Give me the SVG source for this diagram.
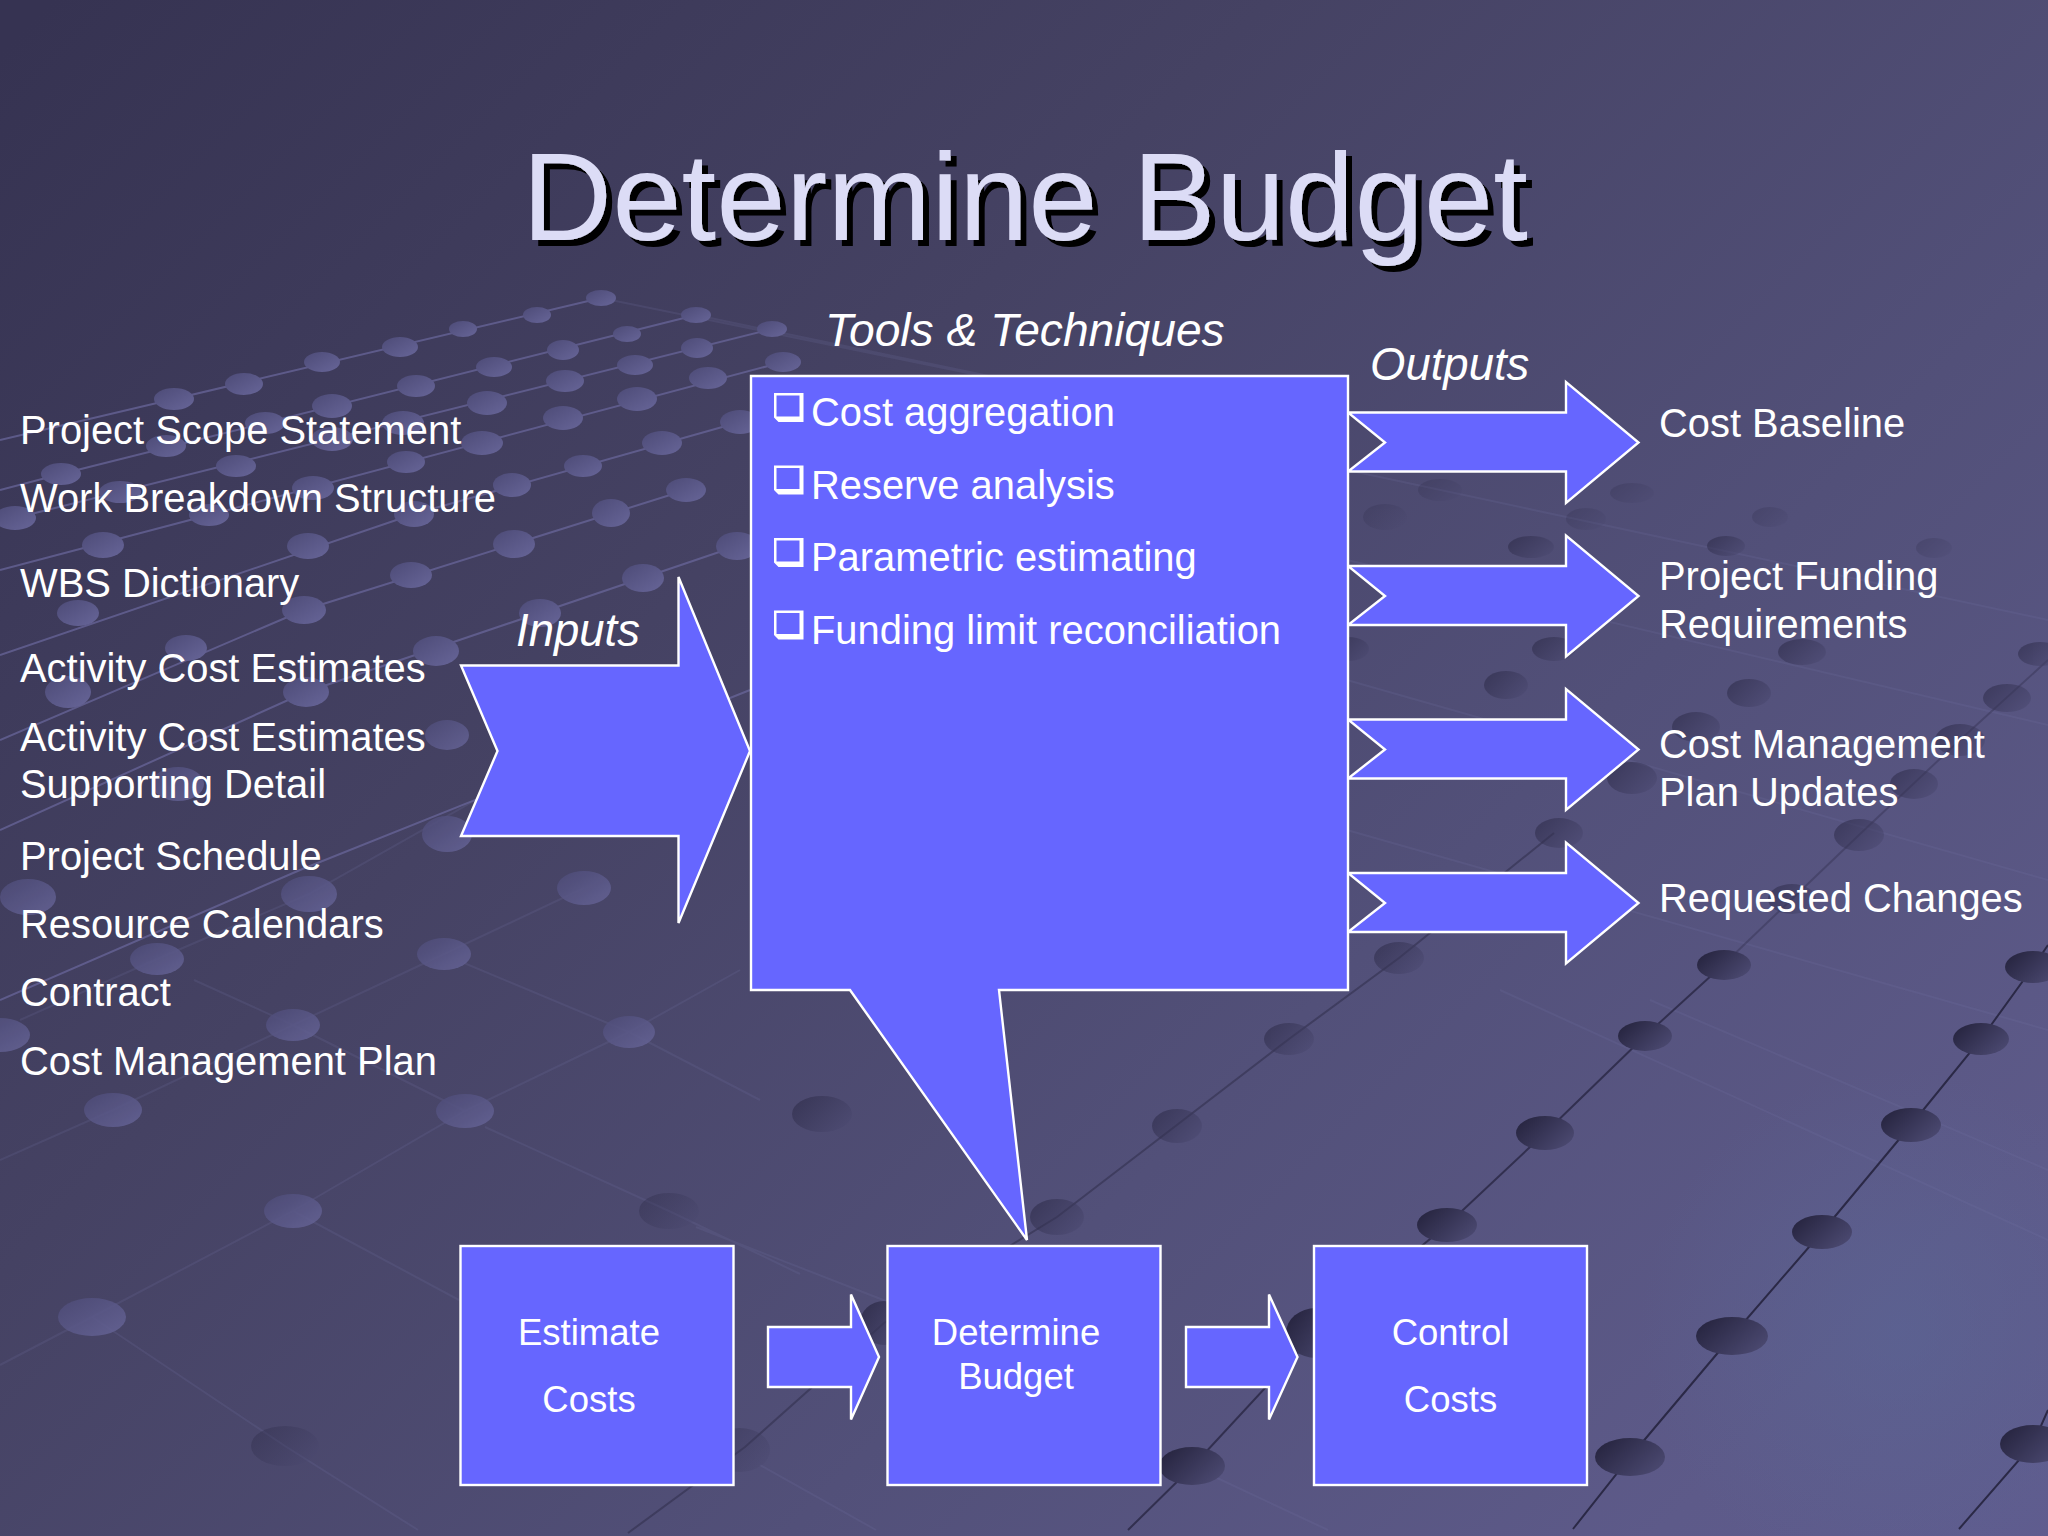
<svg xmlns="http://www.w3.org/2000/svg" xmlns:xlink="http://www.w3.org/1999/xlink" width="2048" height="1536" viewBox="0 0 2048 1536">
<defs>
<linearGradient id="bg" gradientUnits="userSpaceOnUse" x1="150" y1="-100" x2="1900" y2="1640">
<stop offset="0" stop-color="#363352"/><stop offset="0.35" stop-color="#454263"/><stop offset="0.65" stop-color="#525079"/><stop offset="0.9" stop-color="#5d5a89"/><stop offset="1" stop-color="#5f5c8e"/>
</linearGradient>
<linearGradient id="dark" x1="0" y1="0.2" x2="1" y2="0.8"><stop offset="0" stop-color="#26243f"/><stop offset="1" stop-color="#4c4a72"/></linearGradient>
<linearGradient id="light" x1="0" y1="0" x2="1" y2="1"><stop offset="0" stop-color="#4d4b77"/><stop offset="1" stop-color="#676598"/></linearGradient>
<radialGradient id="glow" gradientUnits="userSpaceOnUse" cx="1900" cy="1330" r="260"><stop offset="0" stop-color="#5a6696" stop-opacity="0.55"/><stop offset="1" stop-color="#5a6696" stop-opacity="0"/></radialGradient>
<filter id="hard" x="-5%" y="-5%" width="110%" height="115%"><feOffset in="SourceAlpha" dx="5.500" dy="5.500" result="o"/><feFlood flood-color="#000"/><feComposite in2="o" operator="in"/><feMerge><feMergeNode/><feMergeNode in="SourceGraphic"/></feMerge></filter>
<path id="cb" fill-rule="evenodd" d="M774 393H803.500V422H778.500L774 417.500ZM776.500 395.500V416.500H799.500V395.500Z"/>
<style>
text{font-family:"Liberation Sans",Arial,sans-serif;fill:#fff}
.l{font-size:39.9px}
.i{font-size:45.5px;font-style:italic}
.b{font-size:36.5px;text-anchor:middle}
.shape{fill:#6666ff;stroke:#fff;stroke-width:2.4;stroke-linejoin:miter}
.lt{fill:url(#light)}
.dk{fill:url(#dark)}
.ll{fill:none;stroke:#68659a;stroke-width:2;opacity:.75}
.dl{fill:none;stroke:#2b2946;stroke-width:2}
.fl{fill:none;stroke:#7673a6;stroke-width:2;opacity:.18}
</style>
</defs>
<rect id="background" width="2048" height="1536" fill="url(#bg)"/>
<rect width="2048" height="1536" fill="url(#glow)"/>
<g id="grid-far">
<path class="ll" d="M601 298 174 399 0 440M696 315 61 474 0 490M772 329 15 518M783 362 209 515 0 570M740 422 414 514 0 655M686 490 304 610 0 740M737 546 306 692 0 830M750 690 300 870 0 1000"/>
<path class="fl" d="M584 888 444 954 293 1025 113 1110 0 1160M740 970 629 1032 465 1111 293 1211 92 1317 0 1365M600 730 309 894 157 959 20 1020M92 1317 285 1446 418 1530M293 1211 459 1300M464 963 629 1032 760 1100M485 1127 669 1211 800 1274M194 980 293 1025 465 1111M601 298 1100 400M696 315 1200 420M696 1227 891 1303M760 1465 876 1530M1215 1477 1328 1530M1347 470 2048 620M1347 560 2048 725M1347 680 2048 880M1347 830 2048 1030M1500 990 2048 1240M1650 1000 2048 1170"/>
<g class="lt">
<ellipse cx="601" cy="298" rx="15" ry="8"/><ellipse cx="537" cy="315" rx="14" ry="8"/><ellipse cx="463" cy="329" rx="14" ry="8"/><ellipse cx="400" cy="347" rx="18" ry="10"/><ellipse cx="322" cy="362" rx="18" ry="10"/><ellipse cx="244" cy="384" rx="19" ry="11"/><ellipse cx="174" cy="399" rx="20" ry="11"/>
<ellipse cx="696" cy="315" rx="15" ry="8"/><ellipse cx="627" cy="334" rx="14" ry="8"/><ellipse cx="563" cy="350" rx="16" ry="10"/><ellipse cx="494" cy="367" rx="18" ry="10"/><ellipse cx="416" cy="386" rx="19" ry="11"/><ellipse cx="332" cy="406" rx="20" ry="12"/><ellipse cx="265" cy="423" rx="20" ry="11"/><ellipse cx="166" cy="446" rx="20" ry="11"/><ellipse cx="61" cy="474" rx="20" ry="11"/>
<ellipse cx="772" cy="329" rx="15" ry="8"/><ellipse cx="697" cy="348" rx="16" ry="10"/><ellipse cx="635" cy="365" rx="18" ry="10"/><ellipse cx="565" cy="381" rx="19" ry="11"/><ellipse cx="487" cy="403" rx="20" ry="12"/><ellipse cx="403" cy="423" rx="21" ry="12"/><ellipse cx="332" cy="439" rx="21" ry="12"/><ellipse cx="236" cy="466" rx="20" ry="11"/><ellipse cx="120" cy="492" rx="21" ry="11"/><ellipse cx="15" cy="518" rx="21" ry="12"/>
<ellipse cx="783" cy="362" rx="18" ry="10"/><ellipse cx="708" cy="378" rx="19" ry="11"/><ellipse cx="637" cy="399" rx="20" ry="12"/><ellipse cx="563" cy="418" rx="20" ry="12"/><ellipse cx="482" cy="443" rx="21" ry="12"/><ellipse cx="406" cy="462" rx="19" ry="11"/><ellipse cx="313" cy="488" rx="21" ry="12"/><ellipse cx="209" cy="515" rx="20" ry="11"/>
<ellipse cx="740" cy="422" rx="20" ry="12"/><ellipse cx="662" cy="443" rx="20" ry="12"/><ellipse cx="583" cy="466" rx="19" ry="11"/><ellipse cx="512" cy="485" rx="19" ry="12"/><ellipse cx="414" cy="514" rx="20" ry="13"/><ellipse cx="308" cy="546" rx="21" ry="13"/><ellipse cx="103" cy="545" rx="21" ry="13"/>
<ellipse cx="686" cy="490" rx="20" ry="12"/><ellipse cx="611" cy="513" rx="19" ry="14"/><ellipse cx="514" cy="544" rx="21" ry="14"/><ellipse cx="411" cy="575" rx="21" ry="13"/><ellipse cx="304" cy="610" rx="22" ry="14"/><ellipse cx="78" cy="613" rx="21" ry="13"/>
<ellipse cx="737" cy="546" rx="21" ry="14"/><ellipse cx="643" cy="578" rx="21" ry="14"/><ellipse cx="540" cy="613" rx="21" ry="14"/><ellipse cx="436" cy="651" rx="23" ry="15"/><ellipse cx="186" cy="648" rx="21" ry="13"/><ellipse cx="306" cy="692" rx="23" ry="15"/><ellipse cx="68" cy="692" rx="23" ry="16"/>
</g>
<g class="lt" opacity=".85">
<ellipse cx="447" cy="735" rx="22" ry="15"/><ellipse cx="178" cy="784" rx="26" ry="17"/><ellipse cx="447" cy="834" rx="25" ry="18"/><ellipse cx="28" cy="897" rx="28" ry="18"/><ellipse cx="309" cy="894" rx="28" ry="18"/><ellipse cx="584" cy="888" rx="27" ry="17"/><ellipse cx="444" cy="954" rx="27" ry="16"/><ellipse cx="157" cy="959" rx="27" ry="16"/><ellipse cx="293" cy="1025" rx="27" ry="16"/><ellipse cx="629" cy="1032" rx="26" ry="16"/><ellipse cx="0" cy="1035" rx="30" ry="17"/><ellipse cx="465" cy="1111" rx="29" ry="17"/><ellipse cx="113" cy="1110" rx="29" ry="17"/><ellipse cx="293" cy="1211" rx="29" ry="17"/><ellipse cx="92" cy="1317" rx="34" ry="19"/>
</g>
</g>
<g id="grid-near">
<path class="dl" opacity=".5" d="M628 1533 745 1447 884 1323 1057 1217 1289 1039 1399 958 1554 833"/>
<path class="dl" opacity=".85" d="M1128 1530 1192 1467 1316 1333 1447 1225 1545 1133 1645 1036 1724 964"/>
<path class="dl" opacity=".35" d="M1724 964 1792 899 1859 835 1960 740 2048 660"/>
<path class="dl" d="M1573 1529 1630 1457 1732 1336 1822 1232 1911 1125 1981 1039 2033 967 2048 945M1959 1529 2033 1444 2048 1410"/>
<g class="dk" opacity=".22">
<ellipse cx="1440" cy="490" rx="22" ry="11"/><ellipse cx="1632" cy="493" rx="22" ry="10"/><ellipse cx="1385" cy="517" rx="22" ry="13"/><ellipse cx="1586" cy="519" rx="20" ry="11"/><ellipse cx="1770" cy="517" rx="18" ry="10"/><ellipse cx="1934" cy="548" rx="18" ry="10"/>
</g>
<g class="dk" opacity=".33">
<ellipse cx="669" cy="1211" rx="30" ry="18"/><ellipse cx="285" cy="1446" rx="34" ry="20"/><ellipse cx="740" cy="1450" rx="30" ry="22"/>
</g>
<g class="dk" opacity=".5">
<ellipse cx="1531" cy="547" rx="23" ry="11"/><ellipse cx="1726" cy="546" rx="19" ry="10"/><ellipse cx="1349" cy="649" rx="20" ry="12"/><ellipse cx="1554" cy="649" rx="22" ry="12"/><ellipse cx="1802" cy="652" rx="24" ry="13"/><ellipse cx="2040" cy="654" rx="22" ry="12"/><ellipse cx="1506" cy="685" rx="22" ry="14"/><ellipse cx="1749" cy="693" rx="22" ry="14"/><ellipse cx="2007" cy="698" rx="24" ry="14"/><ellipse cx="1696" cy="727" rx="24" ry="15"/><ellipse cx="1960" cy="740" rx="25" ry="16"/><ellipse cx="1632" cy="778" rx="25" ry="16"/><ellipse cx="1914" cy="784" rx="24" ry="15"/><ellipse cx="1559" cy="833" rx="24" ry="15"/><ellipse cx="1859" cy="835" rx="25" ry="16"/><ellipse cx="1792" cy="899" rx="24" ry="15"/><ellipse cx="1399" cy="958" rx="25" ry="16"/><ellipse cx="1289" cy="1039" rx="25" ry="16"/><ellipse cx="1177" cy="1126" rx="25" ry="17"/><ellipse cx="1057" cy="1217" rx="27" ry="18"/><ellipse cx="822" cy="1114" rx="30" ry="18"/>
</g>
<g class="dk">
<ellipse cx="1724" cy="965" rx="27" ry="15"/><ellipse cx="2033" cy="967" rx="28" ry="16"/><ellipse cx="1645" cy="1036" rx="27" ry="15"/><ellipse cx="1981" cy="1039" rx="28" ry="16"/><ellipse cx="1545" cy="1133" rx="29" ry="17"/><ellipse cx="1911" cy="1125" rx="30" ry="17"/><ellipse cx="1447" cy="1225" rx="30" ry="17"/><ellipse cx="1822" cy="1232" rx="30" ry="17"/><ellipse cx="1732" cy="1336" rx="36" ry="19"/><ellipse cx="1630" cy="1457" rx="35" ry="19"/><ellipse cx="1192" cy="1466" rx="33" ry="19"/><ellipse cx="2033" cy="1444" rx="33" ry="19"/><ellipse cx="1316" cy="1333" rx="30" ry="25"/><ellipse cx="884" cy="1323" rx="24" ry="22" opacity=".7"/>
</g>
</g>
<text id="title" x="1025" y="240" font-size="124.800" text-anchor="middle" filter="url(#hard)" style="fill:#dcdcf6">Determine Budget</text>
<g id="connectors">
<path id="inputs-arrow" class="shape" d="M461 665.500H678.500V577L750 751 678.500 923V836H461L497.500 751Z"/>
<path id="out-1" class="shape" d="M1348 412.500H1566V382L1638.500 442.500 1566 503V471.500H1348L1385 442.500Z"/>
<path id="out-2" class="shape" d="M1348 566H1566V535.500L1638.500 596 1566 656.500V625H1348L1385 596Z"/>
<path id="out-3" class="shape" d="M1348 719.500H1566V689L1638.500 749.500 1566 810V778.500H1348L1385 749.500Z"/>
<path id="out-4" class="shape" d="M1348 873H1566V842.500L1638.500 903 1566 963.500V932H1348L1385 903Z"/>
<path id="flow-1" class="shape" d="M768 1327H851V1294.500L879 1357 851 1419.500V1387H768Z"/>
<path id="flow-2" class="shape" d="M1186 1327H1269V1294.500L1297.500 1357 1269 1419.500V1387H1186Z"/>
</g>
<g id="tools">
<path class="shape" d="M751 376H1348V990H999L1027 1240 850 990H751Z"/>
<g fill="#fff"><use xlink:href="#cb" href="#cb"/><use xlink:href="#cb" href="#cb" y="72.500"/><use xlink:href="#cb" href="#cb" y="145"/><use xlink:href="#cb" href="#cb" y="217.500"/></g>
<text class="l" x="811" y="426">Cost aggregation</text>
<text class="l" x="811" y="498.500">Reserve analysis</text>
<text class="l" x="811" y="571">Parametric estimating</text>
<text class="l" x="811" y="643.500">Funding limit reconciliation</text>
</g>
<g id="headings">
<text class="i" x="825" y="346" style="font-size:46.2px">Tools &amp; Techniques</text>
<text class="i" x="1370" y="380">Outputs</text>
<text class="i" x="516" y="646">Inputs</text>
</g>
<g id="inputs">
<text class="l" x="20" y="444">Project Scope Statement</text>
<text class="l" x="20" y="512">Work Breakdown Structure</text>
<text class="l" x="20" y="597">WBS Dictionary</text>
<text class="l" x="20" y="682">Activity Cost Estimates</text>
<text class="l" x="20" y="751">Activity Cost Estimates</text>
<text class="l" x="20" y="798">Supporting Detail</text>
<text class="l" x="20" y="870">Project Schedule</text>
<text class="l" x="20" y="938">Resource Calendars</text>
<text class="l" x="20" y="1006">Contract</text>
<text class="l" x="20" y="1075">Cost Management Plan</text>
</g>
<g id="outputs">
<text class="l" x="1659" y="437">Cost Baseline</text>
<text class="l" x="1659" y="590">Project Funding</text>
<text class="l" x="1659" y="638">Requirements</text>
<text class="l" x="1659" y="758">Cost Management</text>
<text class="l" x="1659" y="806">Plan Updates</text>
<text class="l" x="1659" y="912">Requested Changes</text>
</g>
<g id="estimate-costs">
<rect class="shape" x="460.500" y="1246" width="273" height="239"/>
<text class="b" x="589" y="1345">Estimate</text><text class="b" x="589" y="1412">Costs</text>
</g>
<g id="determine-budget">
<rect class="shape" x="887.500" y="1246" width="273" height="239"/>
<text class="b" x="1016" y="1345">Determine</text><text class="b" x="1016" y="1389">Budget</text>
</g>
<g id="control-costs">
<rect class="shape" x="1314" y="1246" width="273" height="239"/>
<text class="b" x="1450.500" y="1345">Control</text><text class="b" x="1450.500" y="1412">Costs</text>
</g>
</svg>
